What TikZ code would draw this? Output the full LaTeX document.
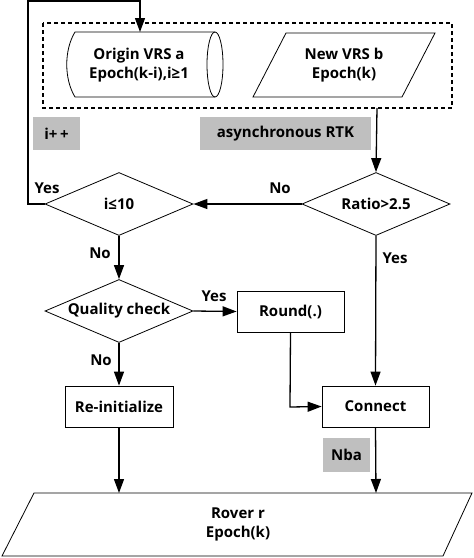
\documentclass[tikz,border=0pt]{standalone}
\usepackage{fontspec}
\setmainfont{Open Sans}
\usetikzlibrary{arrows.meta,shapes.geometric}
\begin{document}
\begin{tikzpicture}[x=1pt,y=-1pt,
  every node/.style={font=\fontsize{15}{19}\selectfont\bfseries, align=center, inner sep=0pt},
  box/.style={draw, line width=0.8pt, minimum width=#1, minimum height=41pt},
  dia/.style={draw, diamond, line width=0.8pt, aspect=2.35, minimum width=148pt, minimum height=63pt},
  tag/.style={fill=black!25, minimum height=33pt},
  flow/.style={line width=1.3pt, -{Triangle[length=14pt,width=10pt]}},
  shp/.style={line width=0.8pt}]
\useasboundingbox (0,0) rectangle (474,558);
% dashed group
\draw[line width=1.6pt, dash pattern=on 4pt off 3pt] (43,23) rectangle (452,108);
\coordinate (grpB) at (377,108);
% cylinder
\draw[shp] (215,32) -- (75,32) .. controls (64,50) and (64,79) .. (75,97) -- (215,97);
\draw[shp] (215,64.5) ellipse [x radius=8, y radius=32.5];
\node (orig) at (139,65) {Origin VRS a\\Epoch(k-i),i≥1};
\coordinate (origT) at (140,32);
% parallelogram b
\draw[shp] (286,33) -- (435,33) -- (402,97) -- (253,97) -- cycle;
\node (newb) at (344,65) {New VRS b\\Epoch(k)};
% tags
\node[tag, minimum width=47pt] (ipp) at (56.5,133.5) {i+\,+};
\node[tag, minimum width=171pt] (async) at (285.5,133.5) {asynchronous RTK};
% diamonds
\node[dia] (ratio) at (376,204) {Ratio>2.5};
\node[dia] (ile) at (119,204) {i≤10};
\node[dia] (qc) at (119,311) {Quality check};
% boxes
\node[box=107pt] (round) at (290.5,311.5) {Round(.)};
\node[box=108pt] (reinit) at (119,406.5) {Re-initialize};
\node[box=107pt] (conn) at (375.5,406.5) {Connect};
\node[tag, minimum width=47pt, minimum height=34pt] (nba) at (346.5,455) {Nba};
% rover
\draw[shp] (34,493) -- (472,493) -- (443,556) -- (2,556) -- cycle;
\node (rover) at (238,524) {Rover r\\Epoch(k)};
\coordinate (roverL) at (119,493);
\coordinate (roverR) at (376,493);
% connectors
\coordinate (lpA) at (28,204);
\coordinate (lpB) at (28,1);
\coordinate (lpC) at (140,1);
\draw[flow] (ile.west) -- (lpA) -- (lpB) -- (lpC) -- (origT);
\draw[flow] (grpB) -- (ratio.north);
\draw[flow] (ratio.west) -- (ile.east);
\draw[flow] (ile.south) -- (qc.north);
\draw[flow] (qc.east) -- (round.west);
\draw[flow] (qc.south) -- (reinit.north);
\draw[flow] (ratio.south) -- (conn.north);
\coordinate (rc) at (290,407);
\draw[flow] (round.south) -- (rc) -- (conn.west);
\draw[flow] (reinit.south) -- (roverL);
\draw[flow] (conn.south) -- (roverR);
% labels
\node (yes1) at (47,188) {Yes};
\node (no1) at (280,188) {No};
\node (no2) at (100,253) {No};
\node (yes2) at (395,258) {Yes};
\node (yes3) at (214,296) {Yes};
\node (no3) at (101,360) {No};
\end{tikzpicture}
\end{document}
